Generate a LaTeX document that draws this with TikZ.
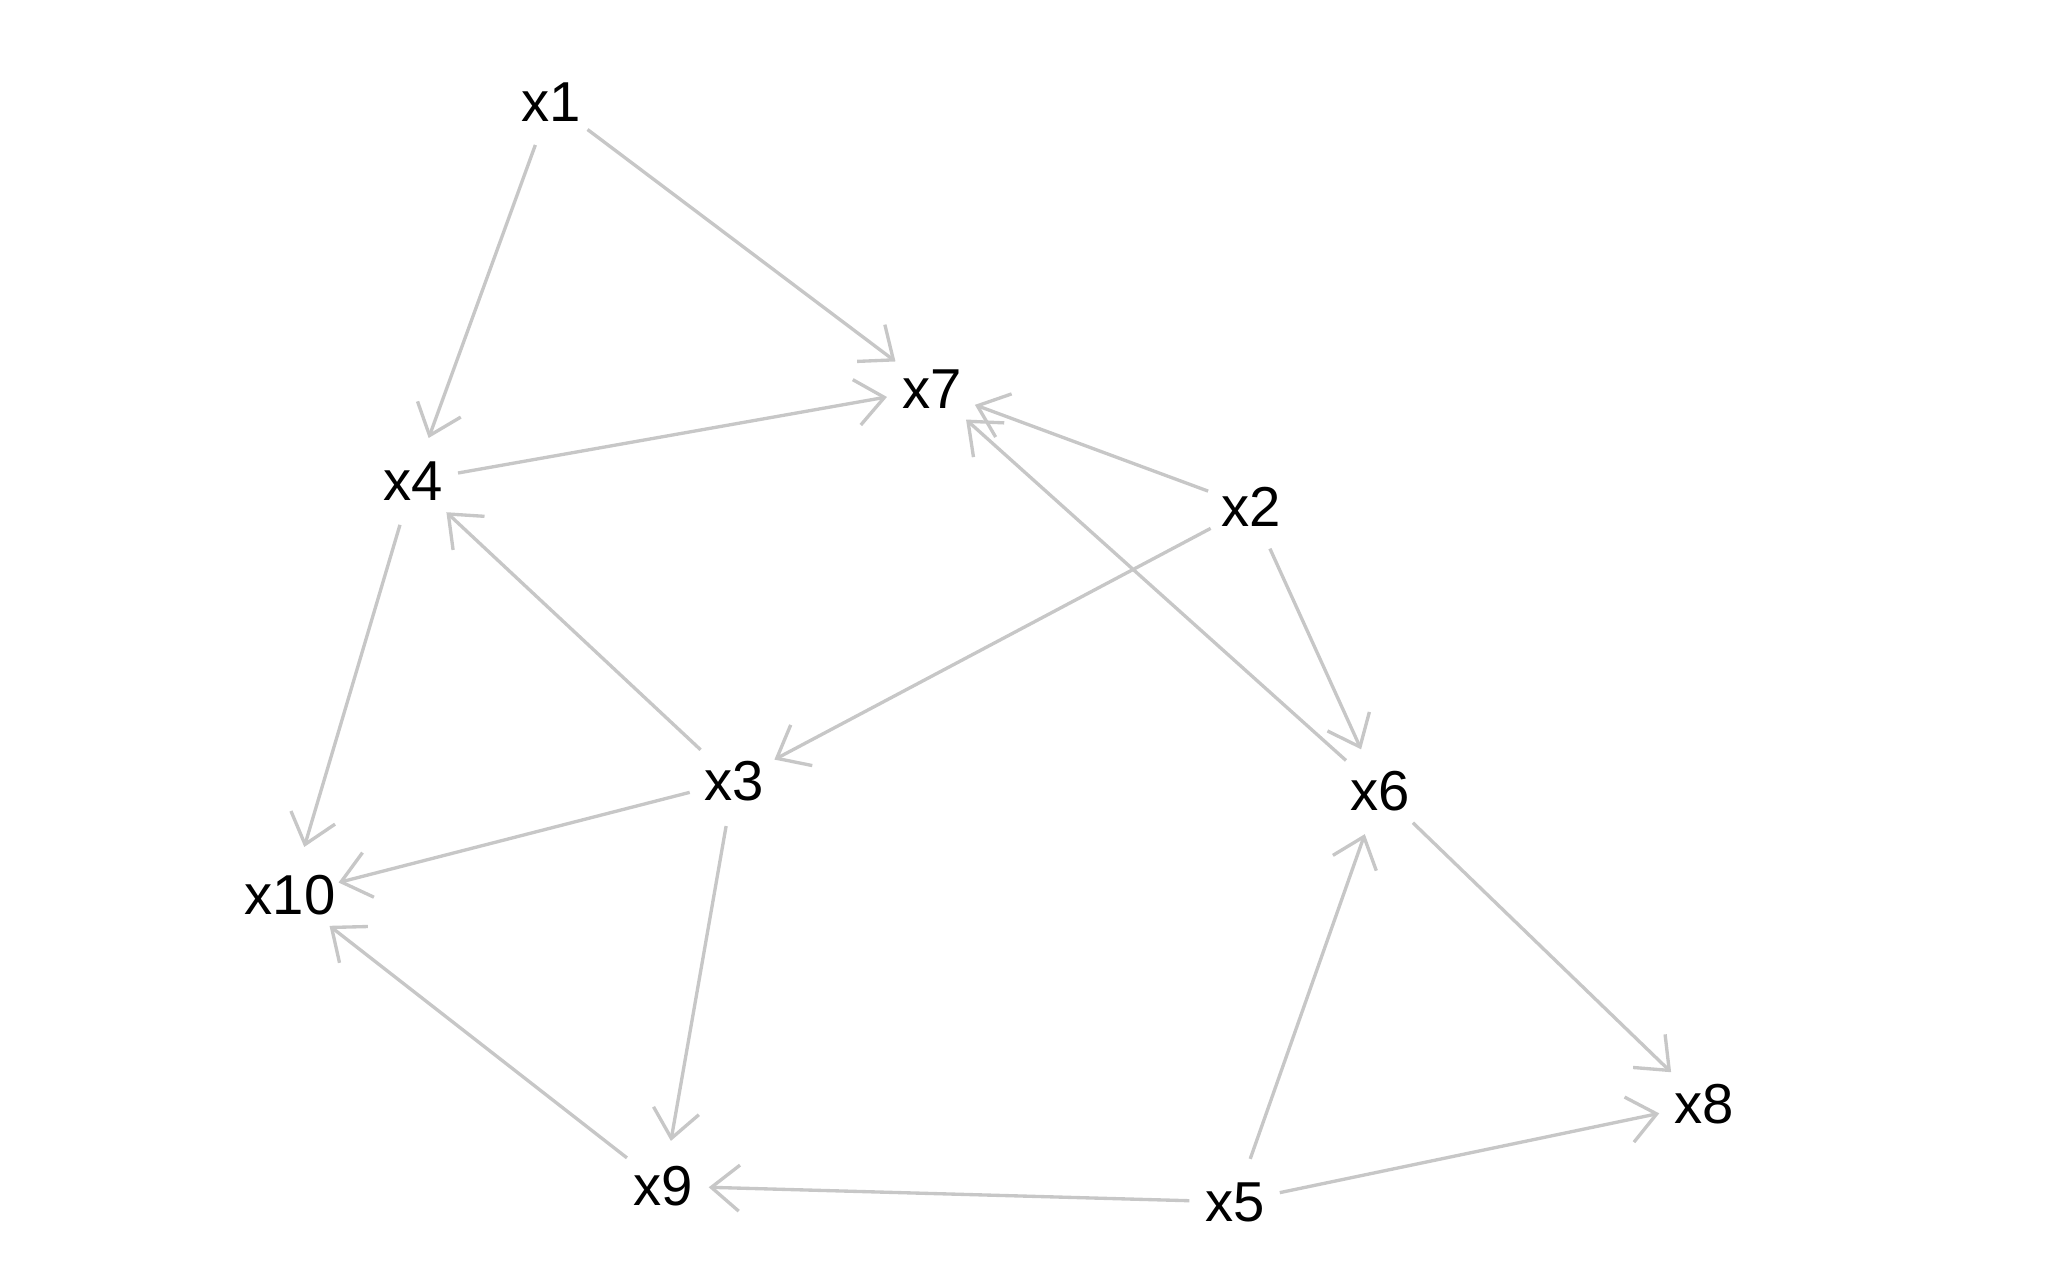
\documentclass[tikz,border=0pt]{standalone}
\usepackage{fontspec}
\setmainfont{Liberation Sans}
\usetikzlibrary{arrows.meta}
\tikzset{
    var-node/.style = {circle, inner sep=0pt, minimum size=9mm, font=\fontsize{16}{19}\selectfont},
    dep-edge/.style = {draw=black!22, line width=0.95pt, -{Straight Barb[length=2.8mm, width=4.6mm]}},
}

\begin{document}
\begin{tikzpicture}[x=0.01cm, y=-0.01cm]
\useasboundingbox (0,0) rectangle (2046,1274);
\node [var-node] (x1) at (551,102) {x1};
\node [var-node] (x7) at (932,389) {x7};
\node [var-node] (x4) at (413,481) {x4};
\node [var-node] (x2) at (1251,507) {x2};
\node [var-node] (x3) at (734,781) {x3};
\node [var-node] (x6) at (1380,791) {x6};
\node [var-node] (x10) at (290,895) {x10};
\node [var-node] (x9) at (663,1186) {x9};
\node [var-node] (x5) at (1235,1202) {x5};
\node [var-node] (x8) at (1704,1104) {x8};
\draw [dep-edge] (x1) -- (x4);
\draw [dep-edge] (x1) -- (x7);
\draw [dep-edge] (x4) -- (x7);
\draw [dep-edge] (x2) -- (x7);
\draw [dep-edge] (x6) -- (x7);
\draw [dep-edge] (x2) -- (x3);
\draw [dep-edge] (x2) -- (x6);
\draw [dep-edge] (x3) -- (x4);
\draw [dep-edge] (x4) -- (x10);
\draw [dep-edge] (x3) -- (x10);
\draw [dep-edge] (x3) -- (x9);
\draw [dep-edge] (x9) -- (x10);
\draw [dep-edge] (x5) -- (x9);
\draw [dep-edge] (x5) -- (x6);
\draw [dep-edge] (x5) -- (x8);
\draw [dep-edge] (x6) -- (x8);
\end{tikzpicture}
\end{document}
